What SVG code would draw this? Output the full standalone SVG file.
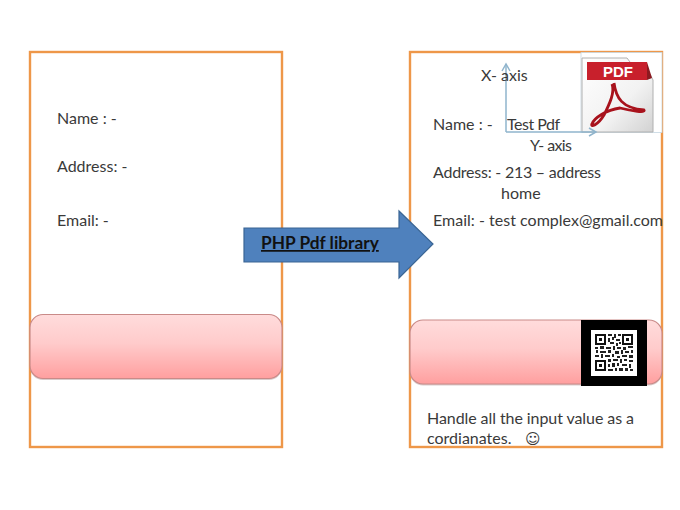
<svg xmlns="http://www.w3.org/2000/svg" width="680" height="510" viewBox="0 0 680 510">
<defs>
<linearGradient id="pink" x1="0" y1="0" x2="0" y2="1"><stop offset="0" stop-color="#ffdcdc"/><stop offset="0.45" stop-color="#ffcbcb"/><stop offset="1" stop-color="#ff9f9f"/></linearGradient>
<linearGradient id="page" x1="0" y1="0" x2="1" y2="1"><stop offset="0" stop-color="#ffffff"/><stop offset="0.6" stop-color="#f2f2f2"/><stop offset="1" stop-color="#d2d2d2"/></linearGradient>
<marker id="ah" markerWidth="10" markerHeight="10" refX="8" refY="5" orient="auto" markerUnits="userSpaceOnUse"><path d="M1,1 L8,5 L1,9" fill="none" stroke="#8fb4cc" stroke-width="1.500"/></marker>
</defs>
<style>
text{font-family:"Lato","Open Sans","Liberation Sans",sans-serif;font-size:16px;fill:#3a3a3a}
.sheet{fill:#fff;stroke:#ee9749;stroke-width:2.400}
.bar{fill:url(#pink);stroke:#c98a88;stroke-width:1.200}
.shadow{fill:#b9a0a0;opacity:.55}
.axis{fill:none;stroke:#8fb4cc;stroke-width:1.500;marker-end:url(#ah)}
</style>
<rect width="680" height="510" fill="#fff"/>
<g id="left-sheet">
<rect class="sheet" x="30" y="52" width="252" height="395"/>
<text x="57" y="124">Name : -</text>
<text x="57" y="172">Address: -</text>
<text x="57" y="226">Email: -</text>
</g>
<g id="left-bar">
<rect class="shadow" x="30" y="316" width="252" height="64" rx="13"/>
<rect class="bar" x="30" y="314.500" width="252" height="64" rx="13"/>
</g>
<g id="right-sheet">
<rect class="sheet" x="410" y="52" width="252" height="395"/>
<text x="433" y="130">Name : -</text>
<text x="507" y="130" textLength="53">Test Pdf</text>
<text x="433" y="178" textLength="168">Address: - 213 – address</text>
<text x="501" y="199">home</text>
<text x="433" y="226" textLength="230">Email: - test complex@gmail.com</text>
<text x="427" y="424" textLength="207">Handle all the input value as a</text>
<text x="427" y="444">cordianates.</text>
<text x="525" y="444" style="font-family:'DejaVu Sans',sans-serif;font-size:15px">☺</text>
</g>
<g id="pdf-icon">
<rect x="581" y="52.500" width="81" height="80" fill="#fff" stroke="#c5d6e2" stroke-width="0.800"/>
<path d="M582,58 H627 L633,66 L650,74 L653,80 V132 H582 Z" fill="url(#page)" stroke="#b0b0b0"/>
<rect x="587" y="62" width="60" height="18" fill="#c8202c"/>
<path d="M647,62 V80 L652,78 Z" fill="#8c1a20"/>
<text x="603" y="76.500" style="font-family:'Liberation Sans',sans-serif;font-weight:bold;font-size:15px;fill:#fff">PDF</text>
<path d="M614,83 C616,98 622,108 644,110 C646,113 632,111 620,108 C606,110 594,118 592,124 C590,128 598,125 604,115 C610,103 615,92 612,84" fill="none" stroke="#a8121c" stroke-width="2.800"/>
</g>
<g id="connectors">
<path class="axis" d="M506,132 V64"/>
<path class="axis" d="M506,132 H596"/>
</g>
<g id="axis-labels">
<text x="481" y="81">X- axis</text>
<text x="530" y="151" textLength="42">Y- axis</text>
</g>
<g id="right-bar">
<rect class="shadow" x="410" y="321.500" width="252" height="64" rx="13"/>
<rect class="bar" x="410" y="320" width="252" height="64" rx="13"/>
<rect x="581" y="320" width="66" height="66" fill="#000"/>
<rect x="591" y="330" width="46" height="46" fill="#fff"/>
<path fill="#111" fill-rule="evenodd" d="M595,334h11v11h-11zM597,336v7h7v-7zM599,338h3v3h-3zM622,334h11v11h-11zM624,336v7h7v-7zM626,338h3v3h-3zM595,360h11v11h-11zM597,362v7h7v-7zM599,364h3v3h-3z"/>
<path fill="#222" d="M608,334h4v2h-4zM614,334h2v4h-2zM618,334h3v2h-3zM608,338h2v4h-2zM612,337h2v3h-2zM616,339h4v2h-4zM610,342h4v2h-4zM616,343h2v3h-2zM619,342h2v2h-2zM595,347h3v2h-3zM600,346h4v3h-4zM606,347h5v2h-5zM613,346h2v4h-2zM617,347h4v2h-4zM623,347h3v3h-3zM628,346h5v2h-5zM596,350h2v3h-2zM600,351h6v2h-6zM608,350h3v3h-3zM615,351h4v3h-4zM621,350h2v4h-2zM625,351h4v2h-4zM631,350h2v3h-2zM595,355h4v2h-4zM601,354h2v4h-2zM605,355h5v2h-5zM612,354h2v3h-2zM617,356h3v2h-3zM622,355h5v2h-5zM629,355h4v3h-4zM608,359h3v3h-3zM613,359h5v2h-5zM620,359h2v4h-2zM624,359h3v2h-3zM629,360h4v2h-4zM608,364h2v3h-2zM612,363h3v4h-3zM617,363h2v3h-2zM622,364h5v2h-5zM629,364h2v4h-2zM608,369h5v2h-5zM615,368h2v3h-2zM619,368h4v3h-4zM625,368h3v3h-3zM630,369h3v2h-3z"/>
</g>
<g id="arrow">
<path d="M244,228 H399 V211 L433,244 L399,278 V262 H244 Z" fill="#4f81bd" stroke="#3a6594" stroke-width="1.200"/>
<text x="261" y="249" style="font-weight:bold;font-size:17.300px;fill:#111;text-decoration:underline">PHP Pdf library</text>
</g>
</svg>
